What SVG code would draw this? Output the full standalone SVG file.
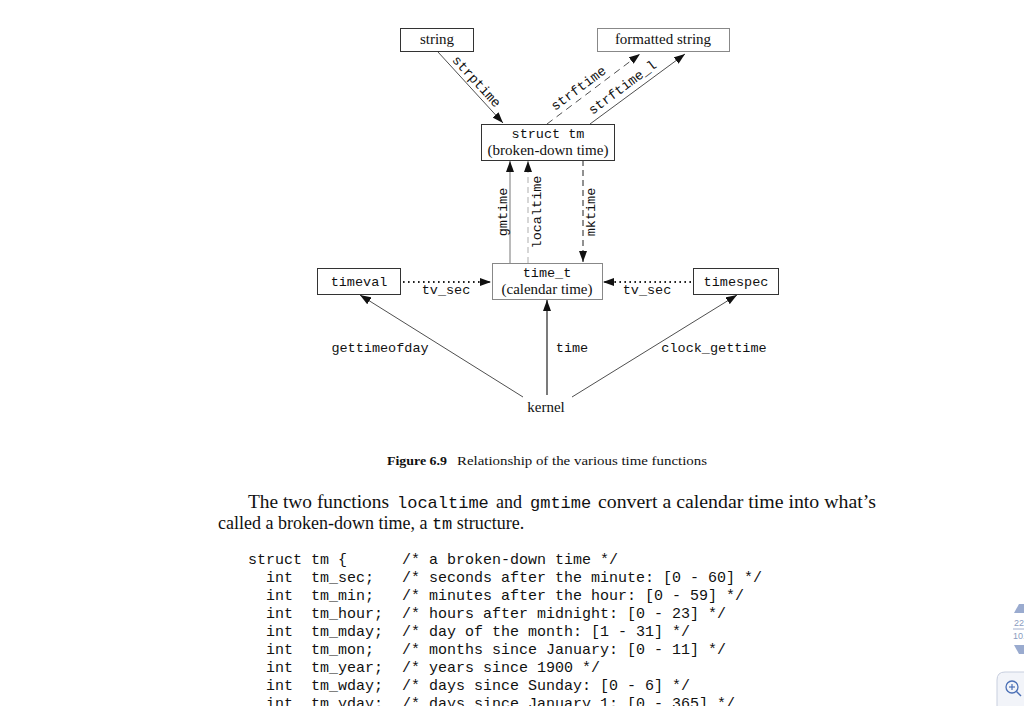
<svg xmlns="http://www.w3.org/2000/svg" width="1024" height="706" viewBox="0 0 1024 706">
<style>
.box{fill:#fff;stroke:#333;stroke-width:1}
.boxl{fill:#fff;stroke:#888;stroke-width:1}
.serif{font-family:"Liberation Serif",serif;fill:#111}
.mono{font-family:"Liberation Mono",monospace;fill:#111}
.lbl{font-family:"Liberation Mono",monospace;font-size:13.5px;fill:#111}
.ln{stroke:#222;stroke-width:0.8;fill:none}
.code{font-family:"Liberation Mono",monospace;font-size:15px;fill:#111}
.para{font-family:"Liberation Serif",serif;font-size:18px;fill:#111}
.pm{font-family:"Liberation Mono",monospace;font-size:17px;fill:#111}
</style>
<defs>
<marker id="ah" markerUnits="userSpaceOnUse" markerWidth="11" markerHeight="8" refX="11" refY="4" orient="auto">
<path d="M0,0 L11,4 L0,8 z" fill="#111"/>
</marker>
</defs>
<rect width="1024" height="706" fill="#fff"/>

<g id="connectors">
<line class="ln" x1="438" y1="52" x2="503" y2="123" marker-end="url(#ah)"/>
<line class="ln" x1="547" y1="124" x2="640" y2="54" stroke-dasharray="7,5" marker-end="url(#ah)"/>
<line class="ln" x1="590" y1="124" x2="685" y2="54" marker-end="url(#ah)"/>
<line x1="510" y1="263" x2="510" y2="161" stroke="#777" stroke-width="1" marker-end="url(#ah)"/>
<line x1="528" y1="263" x2="528" y2="161" stroke="#bbb" stroke-width="1.2" stroke-dasharray="6,4" marker-end="url(#ah)"/>
<line x1="583" y1="160" x2="583" y2="262" stroke="#222" stroke-width="1" stroke-dasharray="6,4" marker-end="url(#ah)"/>
<line x1="403" y1="282" x2="491" y2="282" stroke="#222" stroke-width="1.8" stroke-dasharray="1.6,3.4" marker-end="url(#ah)"/>
<line x1="691" y1="282" x2="603" y2="282" stroke="#222" stroke-width="1.8" stroke-dasharray="1.6,3.4" marker-end="url(#ah)"/>
<line class="ln" x1="523" y1="397" x2="360" y2="295" marker-end="url(#ah)"/>
<line x1="547" y1="395" x2="547" y2="300" stroke="#222" stroke-width="1.2" marker-end="url(#ah)"/>
<line class="ln" x1="572" y1="397" x2="737" y2="295" marker-end="url(#ah)"/>

<text class="lbl" x="476" y="82" text-anchor="middle" dominant-baseline="central" transform="rotate(47.5 476 82)">strptime</text>
<text class="lbl" x="579" y="89" text-anchor="middle" dominant-baseline="central" transform="rotate(-36.5 579 89)">strftime</text>
<text class="lbl" x="623" y="88" text-anchor="middle" dominant-baseline="central" transform="rotate(-36.5 623 88)">strftime_l</text>
<text class="lbl" x="503" y="212" text-anchor="middle" dominant-baseline="central" transform="rotate(-90 503 212)">gmtime</text>
<text class="lbl" x="537" y="212" text-anchor="middle" dominant-baseline="central" transform="rotate(-90 537 212)">localtime</text>
<text class="lbl" x="591" y="212" text-anchor="middle" dominant-baseline="central" transform="rotate(-90 591 212)">mktime</text>
<text class="lbl" x="446" y="294" text-anchor="middle">tv_sec</text>
<text class="lbl" x="647" y="294" text-anchor="middle">tv_sec</text>
<text class="lbl" x="380" y="352" text-anchor="middle">gettimeofday</text>
<text class="lbl" x="572" y="352" text-anchor="middle">time</text>
<text class="lbl" x="714" y="352" text-anchor="middle">clock_gettime</text>
</g>

<g id="node-string">
<rect class="box" x="400.5" y="28.5" width="73" height="23"/>
<text class="serif" x="437" y="44" font-size="15" text-anchor="middle">string</text>
</g>
<g id="node-formatted">
<rect class="boxl" x="597.5" y="28.5" width="132" height="23"/>
<text class="serif" x="663" y="44" font-size="15" text-anchor="middle">formatted string</text>
</g>
<g id="node-structtm">
<rect class="box" x="481.5" y="124.5" width="133" height="36"/>
<text class="mono" x="548" y="138" font-size="13.5" text-anchor="middle">struct tm</text>
<text class="serif" x="548" y="155" font-size="15" text-anchor="middle" textLength="121" lengthAdjust="spacingAndGlyphs">(broken-down time)</text>
</g>
<g id="node-timet">
<rect class="boxl" x="492.5" y="263.5" width="110" height="36"/>
<text class="mono" x="547" y="277" font-size="13.5" text-anchor="middle">time_t</text>
<text class="serif" x="547" y="294" font-size="15" text-anchor="middle" textLength="91" lengthAdjust="spacingAndGlyphs">(calendar time)</text>
</g>
<g id="node-timeval">
<rect class="box" x="317.5" y="268.5" width="83" height="26"/>
<text class="mono" x="359" y="286" font-size="13.5" text-anchor="middle">timeval</text>
</g>
<g id="node-timespec">
<rect class="box" x="693.5" y="268.5" width="85" height="26"/>
<text class="mono" x="736" y="286" font-size="13.5" text-anchor="middle">timespec</text>
</g>
<g id="node-kernel">
<text class="serif" x="546" y="412" font-size="15" text-anchor="middle">kernel</text>
</g>

<g id="caption">
<text class="serif" x="387" y="465" font-size="13.5" font-weight="bold" textLength="60" lengthAdjust="spacingAndGlyphs">Figure 6.9</text>
<text class="serif" x="457" y="465" font-size="13.5" textLength="250" lengthAdjust="spacingAndGlyphs">Relationship of the various time functions</text>
</g>

<g id="paragraph">
<text class="para" x="248" y="508" textLength="141" lengthAdjust="spacingAndGlyphs">The two functions</text>
<text class="pm" x="397" y="508">localtime</text>
<text class="para" x="496" y="508" textLength="26" lengthAdjust="spacingAndGlyphs">and</text>
<text class="pm" x="530" y="508">gmtime</text>
<text class="para" x="598" y="508" textLength="278" lengthAdjust="spacingAndGlyphs">convert a calendar time into what’s</text>
<text class="para" x="218" y="529" font-size="16.5">called a broken-down time, a <tspan font-family="Liberation Mono,monospace" font-size="17">tm</tspan> structure.</text>
</g>

<g id="code">
<text class="code" x="248" y="564">struct tm {</text>
<text class="code" x="402" y="564">/* a broken-down time */</text>
<text class="code" x="266" y="582">int</text><text class="code" x="311" y="582">tm_sec;</text><text class="code" x="402" y="582">/* seconds after the minute: [0 - 60] */</text>
<text class="code" x="266" y="600">int</text><text class="code" x="311" y="600">tm_min;</text><text class="code" x="402" y="600">/* minutes after the hour: [0 - 59] */</text>
<text class="code" x="266" y="618">int</text><text class="code" x="311" y="618">tm_hour;</text><text class="code" x="402" y="618">/* hours after midnight: [0 - 23] */</text>
<text class="code" x="266" y="636">int</text><text class="code" x="311" y="636">tm_mday;</text><text class="code" x="402" y="636">/* day of the month: [1 - 31] */</text>
<text class="code" x="266" y="654">int</text><text class="code" x="311" y="654">tm_mon;</text><text class="code" x="402" y="654">/* months since January: [0 - 11] */</text>
<text class="code" x="266" y="672">int</text><text class="code" x="311" y="672">tm_year;</text><text class="code" x="402" y="672">/* years since 1900 */</text>
<text class="code" x="266" y="690">int</text><text class="code" x="311" y="690">tm_wday;</text><text class="code" x="402" y="690">/* days since Sunday: [0 - 6] */</text>
<text class="code" x="266" y="708">int</text><text class="code" x="311" y="708">tm_yday;</text><text class="code" x="402" y="708">/* days since January 1: [0 - 365] */</text>
</g>

<g id="side-widget">
<path d="M1019,604 L1024,604 L1024,613 L1014,613 z" fill="#9aabcf"/>
<text x="1014" y="626" font-family="Liberation Sans,sans-serif" font-size="9" fill="#8a9bc0">22</text>
<line x1="1013" y1="629" x2="1024" y2="629" stroke="#8a9bc0" stroke-width="0.8"/>
<text x="1013" y="639" font-family="Liberation Sans,sans-serif" font-size="9" fill="#8a9bc0">10.</text>
<path d="M1014,645 L1024,645 L1024,654 L1019,654 z" fill="#9aabcf"/>
<path d="M1030,672 L1005,672 Q997,672 997,680 L997,710 L1030,710 z" fill="#f2f4f9" stroke="#c8cfdf" stroke-width="1"/>
<circle cx="1012" cy="687" r="6" fill="none" stroke="#4a6fb5" stroke-width="1.3"/>
<line x1="1009" y1="687" x2="1015" y2="687" stroke="#4a6fb5" stroke-width="1.2"/>
<line x1="1012" y1="684" x2="1012" y2="690" stroke="#4a6fb5" stroke-width="1.2"/>
<line x1="1016.5" y1="691.5" x2="1021" y2="696" stroke="#4a6fb5" stroke-width="1.5"/>
</g>
</svg>
